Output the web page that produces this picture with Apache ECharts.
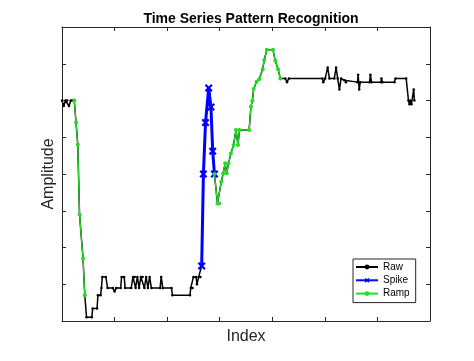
<!DOCTYPE html>
<html>
<head>
<meta charset="utf-8">
<script src="https://cdn.jsdelivr.net/npm/echarts@6/dist/echarts.min.js"></script>
<style>html,body{margin:0;padding:0;background:#fff}#c{width:474px;height:361px}</style>
</head>
<body>
<div id="c"></div>
<script>
// Raw series: [index, amplitude]
const raw = [
  [0,60],[1,58.5],[2,60],[3,60],[4,58.5],[5,60],[6,60],[7,60],
  [8,54],[9,48],[10,29],[12,17],[13,7],
  [14,1],[17,1],[17.5,3.4],[20,3.4],[20.5,7],[22,7],[22.5,9],[23,12],[25,12],[26,9],[29,9],[30,8],[31,9],[33.5,9],[34,12],[35.5,12],[36,9],[39.5,9],
  [40.5,12],[41.5,12],[42,9],[43,12],[44,9],[45,12],[46,12],[47,9],[48,12],[49,9],[50,12],[51,9],
  [56,9],[56.6,12],[57.5,9],[62.5,9],[63,7],[73,7],[73.5,9],[74.5,9],[75,12],[76.5,12],[77,10],[78,12],[79,12],
  [79.7,15],[80.7,40],[81.9,54],[83.7,63.4],[85,58.2],[86,46.2],[87,40],
  [88.7,32],[89.7,32],[90.9,37.9],[92,40.2],[93.1,42.9],[94,40.2],[95,42.9],[96.4,45.6],[97.9,47.9],[99.3,52],[100.4,47.9],[101.3,52],[106.8,52],
  [107.8,58.3],[108.6,59.9],[109.4,63.1],[111,65.1],[112.5,65.8],[114.5,68.5],[115.4,71],[116.9,73.8],[120.4,73.8],[121.7,70.8],[123.3,68.5],[124.6,66],
  [127.4,66],[128.4,65],[129.5,66],[148.6,66],[149.1,65],[150.2,66],[151.6,69],[152.6,66],[155.4,66],[156.4,69],[157.3,66],[158.3,63],[159.3,66],[161.1,65.5],
  [162,65],[168.6,65],[169,67],[169.6,63],[170.2,65],[175.5,65],[176,67],[176.6,65],[182,65],[182.3,66],[182.8,65],[189.7,65],[190.3,66],[196.4,66],
  [197.7,60],[198.3,59],[198.9,60],[199.4,59],[200.7,63],[201.1,60]
];
// Spike segment
const spike = [[79.7,15],[80.7,40],[81.9,54],[83.7,63.4],[85,58.2],[86,46.2],[87,40]];
// Ramp segments
const rampDown = [[7,60],[8,54],[9,48],[10,29],[12,17],[13,7]];
const rampUp = [
  [87,40],[88.7,32],[89.7,32],[90.9,37.9],[92,40.2],[93.1,42.9],[94,40.2],[95,42.9],[96.4,45.6],[97.9,47.9],[99.3,52],[100.4,47.9],[101.3,52],[106.8,52],
  [107.8,58.3],[108.6,59.9],[109.4,63.1],[111,65.1],[112.5,65.8],[114.5,68.5],[115.4,71],[116.9,73.8],[120.4,73.8],[121.7,70.8],[123.3,68.5],[124.6,66]
];
const xRange = [0, 210, 30];
const yRange = [0, 80, 10];
const seriesNames = ['Raw', 'Spike', 'Ramp'];

const axisCol = '#262626';
const FONT = 'Liberation Sans, Arial, sans-serif';
function mkAxis(pos, r, extra) {
  return Object.assign({
    type: 'value', position: pos, min: r[0], max: r[1], interval: r[2],
    axisLine: {show: true, onZero: false, lineStyle: {color: axisCol, width: 1}},
    axisTick: {show: true, inside: true, length: 4, lineStyle: {color: axisCol, width: 1}},
    axisLabel: {show: false}, splitLine: {show: false}
  }, extra || {});
}
const xShape = 'path://M0,2L2,0L5,3L8,0L10,2L7,5L10,8L8,10L5,7L2,10L0,8L3,5Z';

const chart = echarts.init(document.getElementById('c'), null, {renderer: 'canvas'});
chart.setOption({
  backgroundColor: '#fff',
  animation: false,
  title: {
    text: 'Time Series Pattern Recognition', left: 246, top: 7, textAlign: 'center',
    textStyle: {fontFamily: FONT, fontSize: 14, fontWeight: 'bold', color: '#000'}
  },
  grid: {left: 62, right: 44, top: 27, bottom: 40},
  xAxis: [
    mkAxis('bottom', xRange, {name: 'Index', nameLocation: 'middle', nameGap: 8,
      nameTextStyle: {fontFamily: FONT, fontSize: 16, color: '#262626'}}),
    mkAxis('top', xRange)
  ],
  yAxis: [
    mkAxis('left', yRange, {name: 'Amplitude', nameLocation: 'middle', nameGap: 5,
      nameTextStyle: {fontFamily: FONT, fontSize: 16, color: '#262626'}}),
    mkAxis('right', yRange)
  ],
  legend: {
    orient: 'vertical', left: 353, top: 259,
    data: seriesNames,
    itemWidth: 22, itemHeight: 6, itemGap: 1.3,
    padding: [2, 6, 3, 2],
    backgroundColor: '#fff', borderColor: axisCol, borderWidth: 1,
    textStyle: {fontFamily: FONT, fontSize: 10, color: '#000', lineHeight: 12}
  },
  series: [
    {name: 'Raw', type: 'line', data: raw, xAxisIndex: 0, yAxisIndex: 0,
      symbol: 'circle', symbolSize: 2.5,
      lineStyle: {color: '#000', width: 1.5}, itemStyle: {color: '#000'}},
    {name: 'Spike', type: 'line', data: spike, xAxisIndex: 0, yAxisIndex: 0,
      symbol: xShape, symbolSize: 8,
      lineStyle: {color: '#0000ff', width: 3}, itemStyle: {color: '#0000ff'}},
    {name: 'Ramp', type: 'line', data: rampDown, xAxisIndex: 0, yAxisIndex: 0,
      symbol: 'circle', symbolSize: 4,
      lineStyle: {color: '#22dd22', width: 1.2}, itemStyle: {color: '#22dd22'}},
    {name: 'Ramp', type: 'line', data: rampUp, xAxisIndex: 0, yAxisIndex: 0,
      symbol: 'circle', symbolSize: 4,
      lineStyle: {color: '#22dd22', width: 1.2}, itemStyle: {color: '#22dd22'}}
  ]
});
</script>
</body>
</html>
